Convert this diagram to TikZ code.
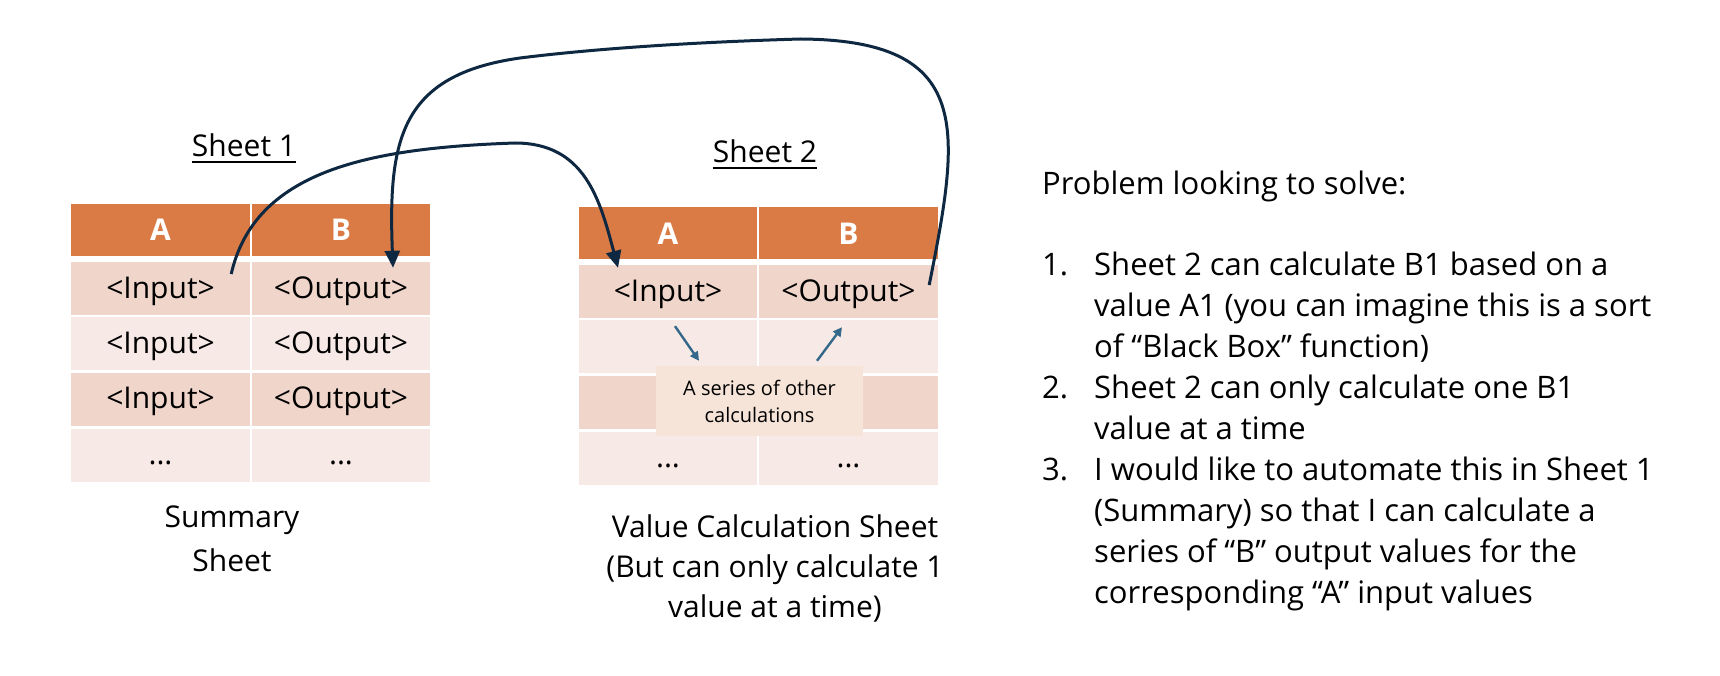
\documentclass[tikz,border=0pt]{standalone}
\usepackage{fontspec}
\setmainfont{Open Sans}
\usetikzlibrary{arrows.meta}
\definecolor{navy}{HTML}{0E2841}
\definecolor{hdrorange}{HTML}{DA7A44}
\definecolor{rowdark}{HTML}{F0D5CB}
\definecolor{rowlight}{HTML}{F7E9E5}
\definecolor{calcfill}{HTML}{F6E4D8}
\definecolor{steel}{HTML}{34688A}
\newcommand\myul[1]{\setbox0\hbox{#1}\rlap{\rule[-6pt]{\wd0}{2.2pt}}\box0}
\tikzset{
  cellbase/.style={rectangle, inner sep=0pt, minimum height=53pt, text=black,
    font=\fontsize{30}{36}\selectfont, text height=26pt, text depth=7pt},
  hdrcell/.style={cellbase, fill=hdrorange, minimum height=52pt, text=white,
    font=\fontsize{30}{36}\selectfont\bfseries, text height=26pt, text depth=4pt},
  rowd/.style={cellbase, fill=rowdark},
  rowl/.style={cellbase, fill=rowlight},
  wA/.style={minimum width=179pt},
  wB/.style={minimum width=178pt},
  sheetlabel/.style={inner sep=0pt, anchor=base, font=\fontsize{30}{36}\selectfont},
  biglabel/.style={inner sep=0pt, align=center, anchor=base},
  bigarrow/.style={draw=navy, line width=3pt, -{Triangle[length=17pt,width=15pt]}},
  smallarrow/.style={draw=steel, line width=2.4pt, -{Triangle[length=9pt,width=9pt]}},
}
\begin{document}
\begin{tikzpicture}[x=1pt,y=-1pt]
\useasboundingbox (0,0) rectangle (1720,676);
% ---------- Sheet 1 ----------
\node[sheetlabel] (s1lbl) at (244,157) {\myul{Sheet 1}};
\node[hdrcell,wA] (h1a) at (160.5,230) {A};
\node[hdrcell,wB] (h1b) at (341,230) {B};
\node[rowd,wA] (t1a1) at (160.5,288.5) {<Input>};
\node[rowd,wB] (t1b1) at (341,288.5) {<Output>};
\node[rowl,wA] (t1a2) at (160.5,343.5) {<Input>};
\node[rowl,wB] (t1b2) at (341,343.5) {<Output>};
\node[rowd,wA] (t1a3) at (160.5,399) {<Input>};
\node[rowd,wB] (t1b3) at (341,399) {<Output>};
\node[rowl,wA] (t1a4) at (160.5,455) {...};
\node[rowl,wB] (t1b4) at (341,455) {...};
\node[biglabel, font=\fontsize{30}{44}\selectfont] (sum) at (232,571) {Summary\\Sheet};
% ---------- Sheet 2 ----------
\node[sheetlabel] (s2lbl) at (765,163) {\myul{Sheet 2}};
\node[hdrcell,wB] (h2a) at (668,233) {A};
\node[hdrcell,wA] (h2b) at (848.5,233) {B};
\node[rowd,wB] (t2a1) at (668,291.5) {<Input>};
\node[rowd,wA] (t2b1) at (848.5,291.5) {<Output>};
\node[rowl,wB] (t2a2) at (668,346.5) {};
\node[rowl,wA] (t2b2) at (848.5,346.5) {};
\node[rowd,wB] (t2a3) at (668,402) {};
\node[rowd,wA] (t2b3) at (848.5,402) {};
\node[rowl,wB] (t2a4) at (668,458) {...};
\node[rowl,wA] (t2b4) at (848.5,458) {...};
\node[rectangle, fill=calcfill, minimum width=207pt, minimum height=70pt, inner sep=0pt,
      align=center, font=\fontsize{20}{27}\selectfont] (calc) at (759.5,401)
      {A series of other\\calculations};
\node[biglabel, font=\fontsize{30}{40}\selectfont] (vcs) at (775,617)
      {Value Calculation Sheet\\(But can only calculate 1\\value at a time)};
% ---------- small arrows ----------
\draw[smallarrow] ([xshift=7pt,yshift=-8pt]t2a1.south) -- ([xshift=-60.5pt,yshift=5pt]calc.north);
\draw[smallarrow] ([xshift=57.5pt,yshift=5pt]calc.north) -- ([xshift=-6.5pt,yshift=-9pt]t2b1.south);
% ---------- big curved arrows ----------
\draw[bigarrow] ([xshift=-19pt,yshift=14.5pt]t1a1.east)
   .. controls (255,170) and (370,148) .. (515,143)
   .. controls (585,143) and (600,200) .. ([xshift=-50pt,yshift=-3pt]t2a1.north);
\draw[bigarrow] ([xshift=-9pt,yshift=6.5pt]t2b1.east)
   .. controls (960,130) and (975,40) .. (800,39)
   .. controls (700,42) and (600,48) .. (520,58)
   .. controls (400,75) and (388,140) .. ([xshift=52pt,yshift=-6pt]t1b1.north);
% ---------- problem text ----------
\node[inner sep=0pt, anchor=base west, align=left, font=\fontsize{31}{40.9}\selectfont] (prob) at (1042,603)
 {Problem looking to solve:\\[40.9pt]
  \makebox[52pt][l]{1.}Sheet 2 can calculate B1 based on a\\
  \hspace*{52pt}value A1 (you can imagine this is a sort\\
  \hspace*{52pt}of “Black Box” function)\\
  \makebox[52pt][l]{2.}Sheet 2 can only calculate one B1\\
  \hspace*{52pt}value at a time\\
  \makebox[52pt][l]{3.}I would like to automate this in Sheet 1\\
  \hspace*{52pt}(Summary) so that I can calculate a\\
  \hspace*{52pt}series of “B” output values for the\\
  \hspace*{52pt}corresponding “A” input values};
\end{tikzpicture}
\end{document}
